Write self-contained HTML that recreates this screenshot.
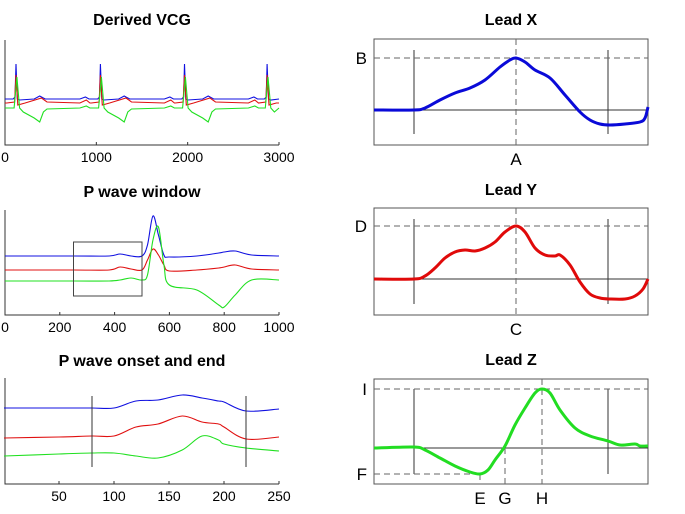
<!DOCTYPE html>
<html><head><meta charset="utf-8"><style>
body{margin:0;background:#fff;width:685px;height:514px;overflow:hidden}
svg{display:block;font-family:"Liberation Sans",sans-serif}
</style></head><body>
<svg id="c" width="685" height="514" viewBox="0 0 685 514"></svg>
<script>
// ---------- data ----------
const vcgBeats=[120,1045,1965,2870];
const vcgBlueT=[[-100,0],[-30,0],[-10,2],[0,35],[15,0],[40,-1],[200,0],[260,3],[320,0],[700,0],[760,2],[800,0]];
const vcgRedT=[[-100,0],[-15,1],[0,28],[20,-2],[100,0],[280,5],[340,1],[700,0],[770,3],[810,0]];
const vcgGreenT=[[-100,0],[-20,0],[10,31],[40,0],[80,-4],[200,-10],[260,-14],[300,-4],[340,-1],[700,0],[770,2],[810,0]];
const vcgTicks=[0,1000,2000,3000];

const pwX=[0,250,380,420,460,500,520,540,560,580,600,700,780,800,840,900,1000];
const pwBlue=[59,59,59,61,59,59,70,99,80,60,58,59,62,63,64,60,59];
const pwRed=[45,45,45,48,46,45,55,66,60,50,44,45,47,48,50,46,45];
const pwGreen=[34,34,34,35,37,35,40,75,88,50,30,25,10,8,20,35,35];
const pwTicks=[0,200,400,600,800,1000];
const pwBox=[250,500];

const onX=[0,50,80,100,120,140,162,180,195,200,220,250];
const onBlue=[76,76,76,76,83,84,89,86,83,82,73,75];
const onRed=[46,47,48,48,57,60,68,62,60,57,45,47];
const onGreen=[28,30,31,31,28,26,34,48,44,40,36,33];
const onTicks=[50,100,150,200,250];
const onMarks=[80,220];

const ldX=[0,40,51,66,81,96,111,126,136,142,151,161,176,191,206,216,226,236,251,266,271,274];
const ldXv=[0,0,2,10,17,22,30,43,50,52,48,40,32,15,-2,-10,-14,-15,-14,-12,-8,3];
const ldYx=[0,40,51,61,71,81,91,101,111,121,131,142,151,161,171,181,186,196,206,216,226,236,251,261,269,274];
const ldYv=[0,0,3,11,21,27,29,28,31,37,47,53,47,31,24,23,24,14,-3,-15,-19,-20,-20,-17,-10,0];
const ldZx=[0,40,51,66,81,96,106,114,121,131,141,151,161,168,176,186,201,216,234,246,261,266,274];
const ldZv=[0,1,-2,-10,-18,-24,-26,-22,-12,2,23,40,55,59,55,38,20,12,7,3,4,2,2];
const ldMarks=[40,234];

// ---------- helpers ----------
const S=document.getElementById('c');const NS='http://www.w3.org/2000/svg';
function el(t,a,txt){const e=document.createElementNS(NS,t);for(const k in a)e.setAttribute(k,a[k]);if(txt!==undefined)e.textContent=txt;S.appendChild(e);return e;}
function lin(d0,d1,r0,r1){return v=>r0+(v-d0)/(d1-d0)*(r1-r0);}
function poly(xs,ys,sx,sy){return xs.map((x,i)=>sx(x).toFixed(1)+','+sy(ys[i]).toFixed(1)).join(' ');}
function smooth(xs,ys,sx,sy){const p=xs.map((x,i)=>[sx(x),sy(ys[i])]);let d='M'+p[0][0]+','+p[0][1];
 for(let i=0;i<p.length-1;i++){const p0=p[i-1]||p[i],p1=p[i],p2=p[i+1],p3=p[i+2]||p2;
 d+=` C${p1[0]+(p2[0]-p0[0])/6},${p1[1]+(p2[1]-p0[1])/6} ${p2[0]-(p3[0]-p1[0])/6},${p2[1]-(p3[1]-p1[1])/6} ${p2[0]},${p2[1]}`;}return d;}
function title(x,y,t,n){const e=el('text',{x:x,y:y,'text-anchor':'middle','font-size':16,'font-weight':'bold',fill:'#000'},t);}
function leftAxes(top,bot,sx,ticks,n){
 const a=el('path',{d:`M5,${top}V${bot}H279`,stroke:'#333',fill:'none','stroke-width':1});
 ticks.forEach(t=>{el('line',{x1:sx(t),x2:sx(t),y1:bot,y2:bot-3,stroke:'#333'});
  const l=el('text',{x:sx(t),y:bot+17,'text-anchor':'middle','font-size':14,fill:'#000'},t);});
}
const COL={b:'#1010e0',r:'#e01010',g:'#20e020'};

// ---------- panel 1: Derived VCG ----------
title(142,25,'Derived VCG','derived-vcg-title');
{const sx=lin(0,3000,5,279);
 leftAxes(40,145,sx,vcgTicks,'vcg');
 [[vcgBlueT,46,COL.b,'blue'],[vcgRedT,42,COL.r,'red'],[vcgGreenT,37,COL.g,'green']].forEach(([T,base,c,n])=>{
  const xs=[0],ys=[base];
  vcgBeats.forEach(b=>T.forEach(([o,v])=>{const x=b+o;if(x>xs[xs.length-1]&&x<=3000){xs.push(x);ys.push(base+v);}}));
  if(xs[xs.length-1]<3000){xs.push(3000);ys.push(base);}
  const e=el('polyline',{points:poly(xs,ys,sx,v=>145-v),fill:'none',stroke:c,'stroke-width':1.1});
  });
}
// ---------- panel 2: P wave window ----------
title(142,197,'P wave window','p-wave-window-title');
{const sx=lin(0,1000,5,279),sy=v=>315-v;
 leftAxes(210,315,sx,pwTicks,'pwindow');
 [[pwBlue,COL.b,'blue'],[pwRed,COL.r,'red'],[pwGreen,COL.g,'green']].forEach(([d,c,n])=>{
  const e=el('path',{d:smooth(pwX,d,sx,sy),fill:'none',stroke:c,'stroke-width':1.1});});
 const b=el('rect',{x:sx(pwBox[0]),y:242,width:sx(pwBox[1])-sx(pwBox[0]),height:54,fill:'none',stroke:'#444','stroke-width':1});
 
}
// ---------- panel 3: onset and end ----------
title(142,366,'P wave onset and end','p-wave-onset-end-title');
{const sx=lin(0,250,4,279),sy=v=>484-v;
 leftAxes(378,484,sx,onTicks,'onset');
 [[onBlue,COL.b,'blue'],[onRed,COL.r,'red'],[onGreen,COL.g,'green']].forEach(([d,c,n])=>{
  const e=el('path',{d:smooth(onX,d,sx,sy),fill:'none',stroke:c,'stroke-width':1.1});});
 onMarks.forEach((m,i)=>{const e=el('line',{x1:sx(m),x2:sx(m),y1:396,y2:467,stroke:'#333'});});
}
// ---------- right panels ----------
function lead(cfg){
 const sx=lin(0,274,374,648),sy=v=>cfg.base-v;
 title(511,cfg.ty,cfg.t,cfg.n+'-title');
 const f=el('rect',{x:374,y:cfg.top,width:274,height:cfg.bot-cfg.top,fill:'none',stroke:'#555'});
 el('line',{x1:374,x2:648,y1:cfg.base,y2:cfg.base,stroke:'#333'});
 ldMarks.forEach(m=>el('line',{x1:sx(m),x2:sx(m),y1:cfg.m0,y2:cfg.m1,stroke:'#333'}));
 cfg.hd.forEach(([v,lab,xe])=>{el('line',{x1:374,x2:xe===undefined?648:sx(xe),y1:sy(v),y2:sy(v),stroke:'#666','stroke-dasharray':'6,4'});
  const l=el('text',{x:367,y:sy(v)+6,'text-anchor':'end','font-size':17},lab);});
 cfg.vd.forEach(([x,lab,y0])=>{el('line',{x1:sx(x),x2:sx(x),y1:y0,y2:cfg.bot,stroke:'#666','stroke-dasharray':'6,4'});
  const l=el('text',{x:sx(x),y:cfg.bot+20,'text-anchor':'middle','font-size':17},lab);});
 const e=el('path',{d:smooth(cfg.xs,cfg.vs,sx,sy),fill:'none',stroke:cfg.c,'stroke-width':3,'stroke-linejoin':'round'});
 
}
lead({t:'Lead X',n:'lead-x',ty:25,top:39,bot:145,base:110,m0:50,m1:134,xs:ldX,vs:ldXv,c:'#0a0ad8',
 hd:[[52,'B']],vd:[[142,'A',39]]});
lead({t:'Lead Y',n:'lead-y',ty:195,top:208,bot:315,base:279,m0:219,m1:304,xs:ldYx,vs:ldYv,c:'#e00a0a',
 hd:[[53,'D']],vd:[[142,'C',208]]});
lead({t:'Lead Z',n:'lead-z',ty:365,top:379,bot:484,base:448,m0:389,m1:474,xs:ldZx,vs:ldZv,c:'#22dd22',
 hd:[[59,'I'],[-26,'F',106]],vd:[[106,'E',474],[131,'G',448],[168,'H',379]]});
</script>
</body></html>
